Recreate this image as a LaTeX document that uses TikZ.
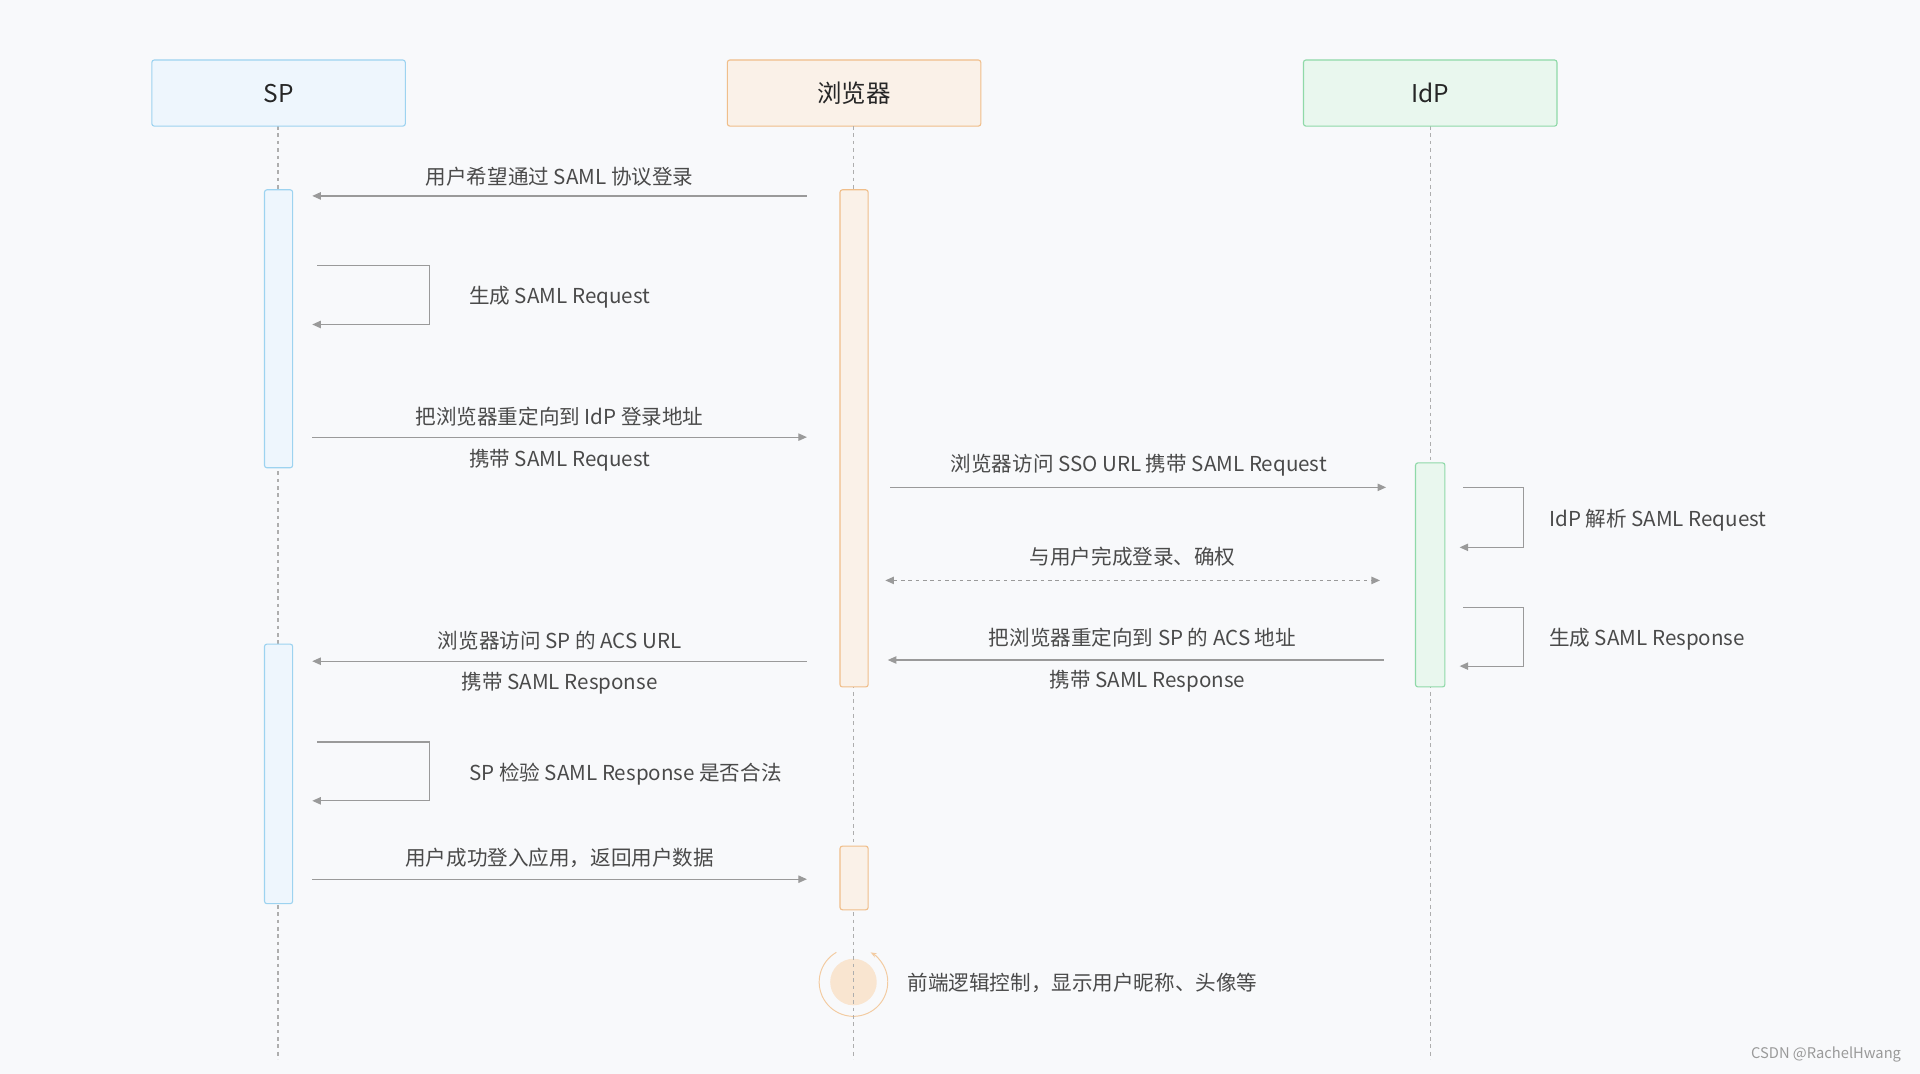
\documentclass[tikz,border=0pt]{standalone}
\usepackage{fontspec}
\setmainfont{Noto Sans CJK SC}
\usetikzlibrary{arrows.meta}
\definecolor{bgc}{HTML}{F8F9FB}
\definecolor{spf}{HTML}{EEF6FD}\definecolor{spd}{HTML}{9DD3F0}
\definecolor{brf}{HTML}{FAF1E8}\definecolor{brd}{HTML}{F0BE8A}
\definecolor{idf}{HTML}{E9F7EE}\definecolor{idd}{HTML}{8FD9A8}
\definecolor{arc}{HTML}{9A9A9A}\definecolor{txt}{HTML}{4A4A4A}
\begin{document}
\begin{tikzpicture}[x=1pt,y=-1pt,
  hdr/.style={draw=#1,minimum width=207pt,minimum height=54pt,inner sep=0pt,font=\fontsize{20}{24}\selectfont,text=black!85,line width=0.9pt,rounded corners=2pt},
  act/.style={draw=#1,line width=0.9pt,rounded corners=2pt},
  msg/.style={draw=arc,line width=1pt,-{Triangle[length=7pt,width=6pt]}},
  lbl/.style={font=\fontsize{16.8}{20}\selectfont,text=txt,inner sep=0pt},
  life/.style={draw=arc!80,dashed,line width=0.9pt}]
\fill[bgc] (0,0) rectangle (1568,877);
\useasboundingbox (0,0) rectangle (1568,877);
% lifelines
\coordinate (spT) at (227,103); \coordinate (spB) at (227,865);
\coordinate (brT) at (697,103); \coordinate (brB) at (697,865);
\coordinate (idT) at (1168,103); \coordinate (idB) at (1168,865);
\draw[life] (spT)--(spB); \draw[life] (idT)--(idB);
\node[hdr=spd,fill=spf] (sp) at (227.5,76) {SP};
\node[hdr=brd,fill=brf] (br) at (697.5,76) {浏览器};
\node[hdr=idd,fill=idf] (idp) at (1168,76) {IdP};
% loop circle (under lifeline)
\fill[brd!40!white] (697,802) circle (19);
\draw[brd!80!white,line width=0.8pt,-{Stealth[length=5pt]}] (697,802) ++(240:28) arc[start angle=240,end angle=-60,radius=28];
\draw[life] (brT)--(brB);
% activations
\draw[act=spd,fill=spf] (216,155) rectangle (239,382);
\draw[act=spd,fill=spf] (216,526) rectangle (239,738);
\draw[act=brd,fill=brf] (686,155) rectangle (709,561);
\draw[act=brd,fill=brf] (686,691) rectangle (709,743);
\draw[act=idd,fill=idf] (1156,378) rectangle (1180,561);
% messages
\coordinate (a1) at (659,160); \coordinate (b1) at (255,160);
\draw[msg] (a1)--(b1); \node[lbl] (l1) at (457,144) {用户希望通过 SAML 协议登录};
\coordinate (s1a) at (259,217); \coordinate (s1b) at (255,265);
\draw[msg] (s1a)--(351,217)--(351,265)--(s1b);
\node[lbl,anchor=west] (l2) at (383,243) {生成 SAML Request};
\coordinate (a3) at (255,357); \coordinate (b3) at (659,357);
\draw[msg] (a3)--(b3);
\node[lbl] (l3) at (457,340) {把浏览器重定向到 IdP 登录地址};
\node[lbl] (l3b) at (457,376) {携带 SAML Request};
\coordinate (a4) at (727,398); \coordinate (b4) at (1132,398);
\draw[msg] (a4)--(b4); \node[lbl] (l4) at (930,380) {浏览器访问 SSO URL 携带 SAML Request};
\coordinate (s2a) at (1195,398); \coordinate (s2b) at (1192,447);
\draw[msg] (s2a)--(1244,398)--(1244,447)--(s2b);
\node[lbl,anchor=west] (l5) at (1265,425) {IdP 解析 SAML Request};
\coordinate (a5) at (723,474); \coordinate (b5) at (1127,474);
\draw[msg,{Triangle[length=7pt,width=6pt]}-{Triangle[length=7pt,width=6pt]},dash pattern=on 3pt off 3pt] (a5)--(b5);
\node[lbl] (l6) at (925,455) {与用户完成登录、确权};
\coordinate (s3a) at (1195,496); \coordinate (s3b) at (1192,544);
\draw[msg] (s3a)--(1244,496)--(1244,544)--(s3b);
\node[lbl,anchor=west] (l7) at (1265,522) {生成 SAML Response};
\coordinate (a6) at (659,540); \coordinate (b6) at (255,540);
\draw[msg] (a6)--(b6);
\node[lbl] (l8) at (457,523) {浏览器访问 SP 的 ACS URL};
\node[lbl] (l8b) at (457,558) {携带 SAML Response};
\coordinate (a7) at (1130,539); \coordinate (b7) at (725,539);
\draw[msg] (a7)--(b7);
\node[lbl] (l9) at (933,521) {把浏览器重定向到 SP 的 ACS 地址};
\node[lbl] (l9b) at (937,556) {携带 SAML Response};
\coordinate (s4a) at (259,606); \coordinate (s4b) at (255,654);
\draw[msg] (s4a)--(351,606)--(351,654)--(s4b);
\node[lbl,anchor=west] (l10) at (383,632) {SP 检验 SAML Response 是否合法};
\coordinate (a8) at (255,718); \coordinate (b8) at (659,718);
\draw[msg] (a8)--(b8);
\node[lbl] (l11) at (457,701) {用户成功登入应用，返回用户数据};
\node[lbl,anchor=west] (l12) at (741,803) {前端逻辑控制，显示用户昵称、头像等};
\node[font=\fontsize{12}{14}\selectfont,text=arc,anchor=east] (wm) at (1556,861) {CSDN @RachelHwang};
\end{tikzpicture}
\end{document}
